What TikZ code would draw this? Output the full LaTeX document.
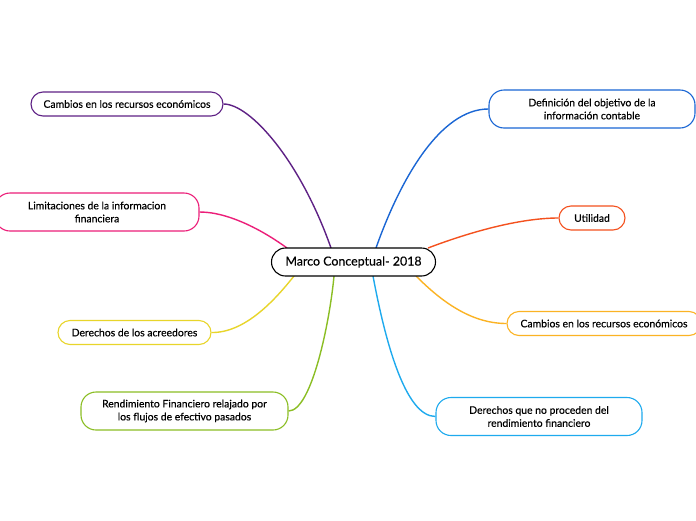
\documentclass[tikz,border=0pt]{standalone}
\usepackage{fontspec}
\setmainfont{Lato}[FakeBold=0.35]
\usetikzlibrary{backgrounds}
\definecolor{cpurple}{HTML}{5E2185}
\definecolor{cpink}{HTML}{EC1E79}
\definecolor{cyellow}{HTML}{E8D52A}
\definecolor{cgreen}{HTML}{8BBE24}
\definecolor{cblue}{HTML}{1A66D4}
\definecolor{corange}{HTML}{F4511E}
\definecolor{camber}{HTML}{FBB324}
\definecolor{clblue}{HTML}{1EAAEE}
\begin{document}
\begin{tikzpicture}[x=1pt,y=-1pt,
  topic/.style={draw=#1, fill=white, line width=1.1pt, rounded corners=12pt,
    font=\fontsize{10.4}{13}\selectfont, align=center, inner sep=0pt, minimum height=24pt},
  topicb/.style={draw=#1, fill=white, line width=1.1pt, rounded corners=15pt,
    font=\fontsize{10.4}{13}\selectfont, align=center, inner sep=0pt, minimum height=38pt},
  central/.style={draw=black, fill=white, line width=1.1pt, rounded corners=14pt,
    font=\fontsize{12.4}{15}\selectfont, inner sep=0pt, minimum width=164pt, minimum height=28pt},
  link/.style={draw=#1, line width=1.4pt}]
\useasboundingbox (0,0) rectangle (696,520);

\node[central] (c) at (353.5,262) {Marco Conceptual- 2018};

\node[topic=cpurple, minimum width=192pt] (p1) at (127,104) {Cambios en los recursos económicos};
\node[topicb=cpink, minimum width=204pt] (p2) at (97,212) {Limitaciones de la informacion\\financiera};
\node[topic=cyellow, minimum width=153pt] (p3) at (134.5,332.5) {Derechos de los acreedores};
\node[topicb=cgreen, minimum width=207pt] (p4) at (184.5,411) {Rendimiento Financiero relajado por\\los flujos de efectivo pasados};

\node[topicb=cblue, minimum width=206pt] (q1) at (592,109) {Definición del objetivo de la\\información contable};
\node[topic=corange, minimum width=66pt] (q2) at (592,218) {Utilidad};
\node[topic=camber, minimum width=194pt] (q3) at (604,323.5) {Cambios en los recursos económicos};
\node[topicb=clblue, minimum width=206pt] (q4) at (539,416.5) {Derechos que no proceden del\\rendimiento financiero};

\coordinate (c1) at (331,248);
\coordinate (c2) at (287,248);
\coordinate (c3) at (294,276);
\coordinate (c4) at (334,276);
\coordinate (d1) at (376,248);
\coordinate (d2) at (428,248);
\coordinate (d3) at (416,276);
\coordinate (d4) at (373,276);

\begin{scope}[on background layer]
\fill[white] (0,0) rectangle (696,520);
\path[link=cpurple] (c1) .. controls (300,160) and (250,104) .. (p1.east);
\path[link=cpink] (c2) .. controls (265,232) and (230,212) .. (p2.east);
\path[link=cyellow] (c3) .. controls (275,300) and (245,333) .. (p3.east);
\path[link=cgreen] (c4) .. controls (330,320) and (312,411) .. (p4.east);
\path[link=cblue] (d1) .. controls (400,180) and (440,109) .. (q1.west);
\path[link=corange] (d2) .. controls (470,232) and (520,218) .. (q2.west);
\path[link=camber] (d3) .. controls (440,300) and (470,323.5) .. (q3.west);
\path[link=clblue] (d4) .. controls (385,340) and (405,416.5) .. (q4.west);
\end{scope}
\end{tikzpicture}
\end{document}
